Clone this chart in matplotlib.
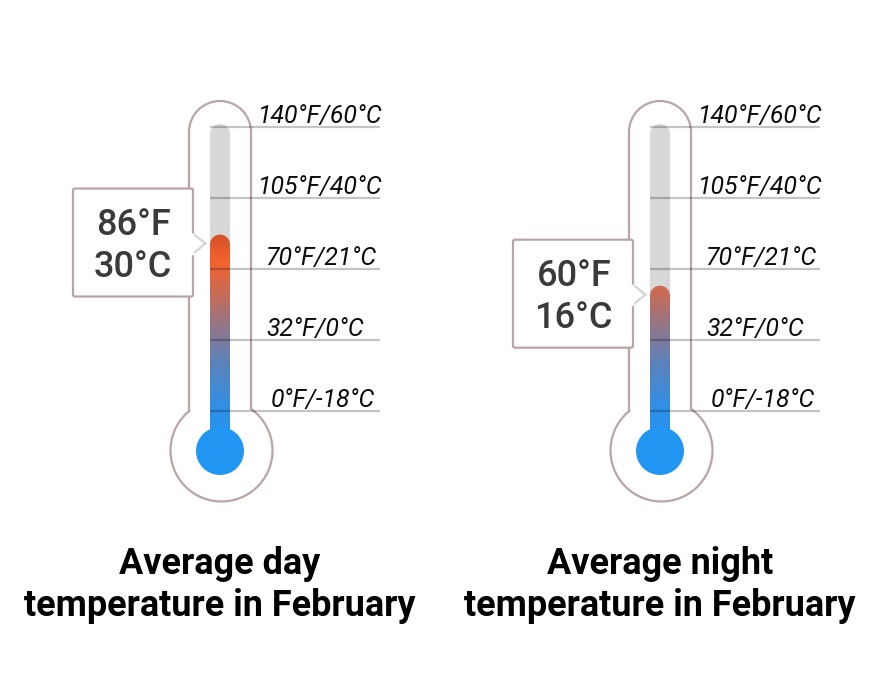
import numpy as np
import matplotlib
matplotlib.use('Agg')
import matplotlib.pyplot as plt
from matplotlib.colors import LinearSegmentedColormap
from matplotlib.patches import Circle, FancyBboxPatch, PathPatch, Polygon
from matplotlib.path import Path

plt.rcParams['font.family'] = ['Roboto', 'DejaVu Sans']

# data
tick_f = [0, 32, 70, 105, 140]
tick_labels = ['0°F/-18°C', '32°F/0°C', '70°F/21°C', '105°F/40°C', '140°F/60°C']
readings_f = [86, 60]
readings_c = [30, 16]
titles = ['Average day\ntemperature in February', 'Average night\ntemperature in February']

OUTLINE = '#b9a5a5'
BLUE = '#2196f3'
# tick marks are evenly spaced on the glass, not by degrees
TICK_Y = [411, 340, 269, 198, 127]
# labels do not share one centre, so left edges are given from the tube axis
LABEL_DX = [50.5, 46.5, 45.5, 38, 38]

fig = plt.figure(figsize=(8.8, 6.8), dpi=100)
ax = fig.add_axes([0, 0, 1, 1])
ax.set_xlim(0, 880)
ax.set_ylim(680, 0)
ax.axis('off')

cmap = LinearSegmentedColormap.from_list('temp', [
    (0.0, BLUE), (0.16, '#2e90e8'), (0.40, '#5f82b8'), (0.50, '#7f7a9a'),
    (0.68, '#bd6e60'), (0.74, '#cf6b50'), (0.86, '#f4622d'), (1.0, '#d2522a')])
grad = np.linspace(1, 0, 256).reshape(-1, 1)


def glass_path(x0):
    # tube with round top running into the bulb
    k = 0.5523
    r = 31
    left, right, top = x0 - 31, x0 + 31, 132
    cx, cy, R = x0 + 1.5, 450.5, 51
    a = np.arctan2(410 - cy, right - cx)
    b = np.arctan2(410 - cy, left - cx)
    if b > 0:
        b -= 2 * np.pi
    verts = [(right, 410), (right, top),
             (right, top - k * r), (x0 + k * r, top - r), (x0, top - r),
             (x0 - k * r, top - r), (left, top - k * r), (left, top),
             (left, 410)]
    codes = [Path.MOVETO, Path.LINETO, Path.CURVE4, Path.CURVE4, Path.CURVE4,
             Path.CURVE4, Path.CURVE4, Path.CURVE4, Path.LINETO]
    for t in np.linspace(b + 2 * np.pi, a, 80):
        verts.append((cx + R * np.cos(t), cy + R * np.sin(t)))
        codes.append(Path.LINETO)
    return Path(verts, codes)


def column(x0, y_top):
    # rounded bar from y_top down to the bulb
    x1, x2, y2, r = x0 - 10, x0 + 10, 440, 10
    k = 0.5523 * r
    return Path([(x1, y2), (x1, y_top + r), (x1, y_top + r - k), (x0 - k, y_top), (x0, y_top),
                 (x0 + k, y_top), (x2, y_top + r - k), (x2, y_top + r), (x2, y2), (x1, y2)],
                [Path.MOVETO, Path.LINETO, Path.CURVE4, Path.CURVE4, Path.CURVE4,
                 Path.CURVE4, Path.CURVE4, Path.CURVE4, Path.LINETO, Path.CLOSEPOLY])


for i in range(2):
    x0 = 220 + 440 * i
    level = np.interp(readings_f[i], tick_f, TICK_Y)

    ax.add_patch(PathPatch(glass_path(x0), fc='white', ec=OUTLINE, lw=1.6, zorder=1))

    # empty part of the column
    ax.add_patch(PathPatch(column(x0, TICK_Y[-1] - 3), fc='#d8d8d8', ec='none', zorder=2))

    # filled part with a gradient fixed to the glass
    im = ax.imshow(grad, cmap=cmap, vmin=0, vmax=1, aspect='auto', zorder=3,
                   extent=(x0 - 10, x0 + 10, 445, 232))
    clip = PathPatch(column(x0, level - 2), transform=ax.transData, fc='none', ec='none')
    ax.add_patch(clip)
    im.set_clip_path(clip)
    ax.add_patch(Circle((x0, 451), 24, fc=BLUE, ec='none', zorder=4))

    # tick lines and labels
    for y, lab, dx in zip(TICK_Y, tick_labels, LABEL_DX):
        ax.plot([x0 - 10, x0 + 160], [y, y], color='#000000', alpha=0.23, lw=1.6,
                solid_capstyle='butt', zorder=5)
        ax.text(x0 + dx, y - 4, lab, ha='left', va='baseline', fontsize=17.9,
                style='italic', color='#0c0c0c', zorder=6)

    # callout
    tip_y = level + 7
    box_top = level - 48
    ax.add_patch(FancyBboxPatch((x0 - 147, box_top), 120, 108,
                                boxstyle='round,pad=0,rounding_size=2',
                                fc='white', ec=OUTLINE, lw=1.6, zorder=7))
    ax.add_patch(Polygon([(x0 - 27, tip_y - 10), (x0 - 14.5, tip_y), (x0 - 27, tip_y + 10)],
                         closed=False, fc='white', ec='#d4d4d4', lw=1.6, zorder=8))
    ax.plot([x0 - 28, x0 - 28], [tip_y - 9, tip_y + 9], color='white', lw=2.5, zorder=8)
    ax.text(x0 - 86, box_top + 37, f'{readings_f[i]}°F', ha='center', va='center',
            fontsize=26, fontweight='medium', color='#3a3a3a', zorder=9)
    ax.text(x0 - 87, box_top + 79, f'{readings_c[i]}°C', ha='center', va='center',
            fontsize=26, fontweight='medium', color='#3a3a3a', zorder=9)

    ax.text(x0, 585, titles[i], ha='center', va='center', fontsize=25.9, fontweight='bold',
            color='#000000', linespacing=1.22)

fig.savefig('out.png', dpi=100)
